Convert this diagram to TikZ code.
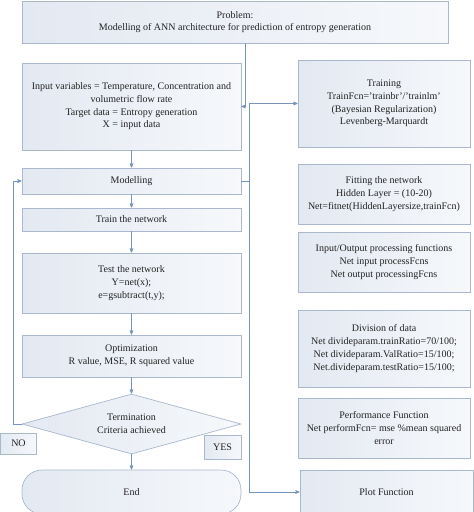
\documentclass[tikz,border=0pt]{standalone}
\usepackage{fontspec}
\setmainfont{Liberation Serif}
\usepackage{tikz}
\usetikzlibrary{calc}
\usetikzlibrary{arrows}
\usetikzlibrary{shapes.geometric}
\definecolor{boxline}{HTML}{A9B8CC}
\definecolor{flowline}{HTML}{7595BC}
\definecolor{boxleft}{HTML}{E3E9F2}
\definecolor{boxright}{HTML}{F6F8FB}
\definecolor{boxtext}{HTML}{222222}
\tikzset{
  flowbox/.style={draw=boxline, line width=0.7pt, left color=boxleft, right color=boxright,
    text=boxtext, align=center, inner sep=2pt, font=\fontsize{10}{12.7}\selectfont},
  flowline/.style={draw=flowline, line width=0.65pt},
  flowarrow/.style={flowline, ->, >=stealth'}
}

\begin{document}
\begin{tikzpicture}[x=1pt, y=-1pt]
\useasboundingbox (0,0) rectangle (474,512);
\clip (0,0) rectangle (474,512);
\coordinate (drop) at (245,0);
\coordinate (bus) at (249,0);
\coordinate (loop) at (13,0);

% left column
\node[flowbox, minimum width=426pt, minimum height=42pt] (prob) at (235,22) {Problem:\\Modelling of ANN architecture for prediction of entropy generation};
\node[flowbox, minimum width=219pt, minimum height=87pt] (input) at (131.5,106.5) {Input variables = Temperature, Concentration and\\volumetric flow rate\\Target data = Entropy generation\\X = input data};
\node[flowbox, minimum width=219pt, minimum height=26pt] (model) at (131.5,181) {Modelling};
\node[flowbox, minimum width=219pt, minimum height=23pt] (train) at (131.5,219.5) {Train the network};
\node[flowbox, minimum width=219pt, minimum height=60pt] (test) at (131.5,283) {Test the network\\Y=net(x);\\e=gsubtract(t,y);};
\node[flowbox, minimum width=219pt, minimum height=42pt] (optim) at (131.5,356) {Optimization\\R value, MSE, R squared value};
\node[flowbox, diamond, aspect=3.6, inner sep=0pt, minimum width=219pt, minimum height=60pt] (term) at (131.5,424) {Termination\\Criteria achieved};
\node[flowbox, minimum width=36pt, minimum height=21pt] (no) at (18.5,443.5) {NO};
\node[flowbox, minimum width=37pt, minimum height=24pt] (yes) at (222.5,447) {YES};
\node[flowbox, rounded corners=20pt, minimum width=219pt, minimum height=44pt] (end) at (131.5,492) {End};

% right column
\node[flowbox, minimum width=172pt, minimum height=87pt] (trainfn) at (384,103.5) {Training\\TrainFcn='trainbr'/'trainlm'\\(Bayesian Regularization)\\Levenberg-Marquardt};
\node[flowbox, minimum width=172pt, minimum height=60pt] (fit) at (384,194) {Fitting the network\\Hidden Layer = (10-20)\\Net=fitnet(HiddenLayersize,trainFcn)};
\node[flowbox, minimum width=172pt, minimum height=60pt] (io) at (384,262) {Input/Output processing functions\\Net input processFcns\\Net output processingFcns};
\node[flowbox, minimum width=172pt, minimum height=77pt] (div) at (384,348.5) {Division of data\\Net divideparam.trainRatio=70/100;\\Net divideparam.ValRatio=15/100;\\Net.divideparam.testRatio=15/100;};
\node[flowbox, minimum width=172pt, minimum height=60pt] (perf) at (384,428) {Performance Function\\Net performFcn= mse \%mean squared\\error};
\node[flowbox, minimum width=173pt, minimum height=44pt] (plot) at (386.5,492) {Plot Function};

% connectors
\draw[flowarrow] (prob.south -| drop) |- (input.east);
\draw[flowarrow] (input) -- (model);
\draw[flowarrow] (model) -- (train);
\draw[flowarrow] (train) -- (test);
\draw[flowarrow] (test) -- (optim);
\draw[flowarrow] (optim) -- (term);
\draw[flowarrow] (term) -- (end);
\draw[flowarrow] (term.west) -- (term.west -| loop) |- (model.west);
\draw[flowline] (model.east) -- (model.east -| bus);
\draw[flowarrow] (model.east -| bus) |- (trainfn.west);
\draw[flowarrow] (model.east -| bus) |- (plot.west);
\end{tikzpicture}
\end{document}
